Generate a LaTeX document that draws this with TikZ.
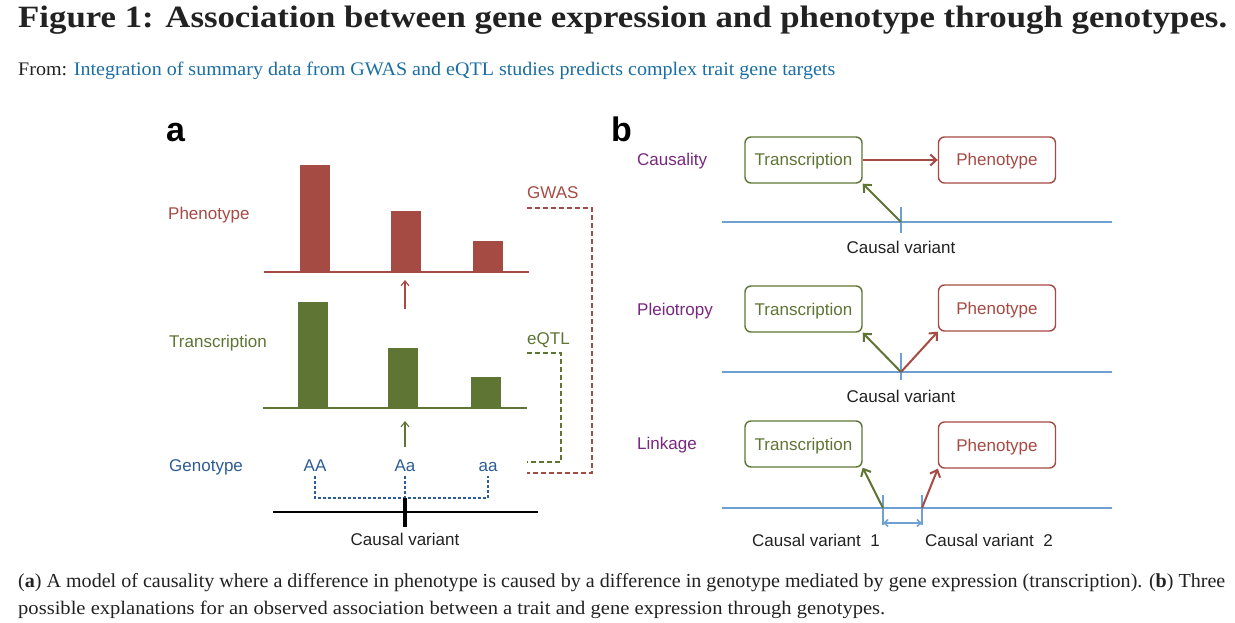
\documentclass[tikz,border=0pt]{standalone}
\usepackage{fontspec}
\setmainfont{Liberation Serif}
\setsansfont{Liberation Sans}
\usetikzlibrary{positioning,arrows.meta}

\definecolor{phenored}{RGB}{166,74,68}
\definecolor{transgreen}{RGB}{94,117,52}
\definecolor{genoblue}{RGB}{46,92,150}
\definecolor{chromblue}{RGB}{110,161,210}
\definecolor{modelpurple}{RGB}{120,40,126}
\definecolor{linkblue}{RGB}{27,110,163}
\definecolor{inkgray}{RGB}{34,34,34}

\tikzstyle{lbl} = [font=\sffamily\fontsize{17}{20}\selectfont, inner sep=0pt, text height=12pt, text depth=0pt]
\tikzstyle{panellbl} = [font=\sffamily\bfseries\fontsize{34}{36}\selectfont, inner sep=0pt, anchor=base west]
\tikzstyle{axisline} = [line width=1.5pt]
\tikzstyle{roundbox} = [lbl, rectangle, rounded corners=6pt, minimum width=117pt, minimum height=46pt, line width=1.4pt]
\tikzstyle{arrow} = [line width=2pt, -{Straight Barb[length=6pt,width=11pt]}]
\tikzstyle{thinarrow} = [line width=1.1pt, -{Straight Barb[length=5pt,width=8pt]}]
\tikzstyle{chrom} = [chromblue, line width=2pt]
\tikzstyle{assocdash} = [line width=1.5pt, dash pattern=on 5pt off 3pt]
\tikzstyle{genodash} = [genoblue, line width=1.2pt, dash pattern=on 3pt off 2pt]
\tikzstyle{textline} = [anchor=base west, inner sep=0pt, text=inkgray]

\begin{document}
\begin{tikzpicture}[x=1pt,y=-1pt]

\fill[white] (0,0) rectangle (1235,623);
\useasboundingbox (0,0) rectangle (1235,623);

% heading, source and caption
\node (title) [textline] at (18,28) {\resizebox{1209pt}{21.5pt}{\bfseries Figure 1: Association between gene expression and phenotype through genotypes.}};
\node (source) [textline] at (18,76) {\resizebox{817pt}{13.5pt}{From: \textcolor{linkblue}{Integration of summary data from GWAS and eQTL studies predicts complex trait gene targets}}};
\node (capone) [textline] at (18,587) {\resizebox{1207pt}{14pt}{(\textbf{a}) A model of causality where a difference in phenotype is caused by a difference in genotype mediated by gene expression (transcription). (\textbf{b}) Three}};
\node (captwo) [textline] at (18,614) {\resizebox{867pt}{13.5pt}{possible explanations for an observed association between a trait and gene expression through genotypes.}};

% panel a
\node (panela) [panellbl] at (166,142) {a};

\node (phenolbl) [lbl, anchor=west, text=phenored] at (168,213) {Phenotype};
\node (translbl) [lbl, anchor=west, text=transgreen] at (169,341) {Transcription};
\node (genolbl) [lbl, anchor=west, text=genoblue] at (169,465) {Genotype};

\foreach \x/\top in {300/165, 391/211, 473/241}
  \fill[phenored] (\x,\top) rectangle (\x+30,272);
\draw[axisline, phenored] (264,272) -- (529,272);

\foreach \x/\top in {298/302, 388/348, 471/377}
  \fill[transgreen] (\x,\top) rectangle (\x+30,408);
\draw[axisline, transgreen] (263,408) -- (527,408);

\node (AA) [lbl, text=genoblue] at (315,465) {AA};
\node (Aa) [lbl, text=genoblue] at (405,465) {Aa};
\node (aa) [lbl, text=genoblue] at (488,465) {aa};

\coordinate (eqtltail) at (405,447);
\coordinate (eqtlhead) at (405,421);
\coordinate (gwastail) at (405,309);
\coordinate (gwashead) at (405,280);
\draw[thinarrow, transgreen] (eqtltail) -- (eqtlhead);
\draw[thinarrow, phenored] (gwastail) -- (gwashead);

\coordinate (brk) at (405,498);
\draw[genodash] ([yshift=-5pt]AA.south) |- (brk) -| ([yshift=-5pt]aa.south);
\draw[genodash] ([yshift=-5pt]Aa.south) -- (brk);

\draw[axisline, black] (273,512) -- (538,512);
\draw[black, line width=3.5pt] (brk) -- (405,527);
\node (cvara) [lbl, text=inkgray] at (405,539) {Causal variant};

\node (gwaslbl) [lbl, anchor=west, text=phenored] at (527,193) {GWAS};
\node (eqtllbl) [lbl, anchor=west, text=transgreen] at (527,338) {eQTL};
\draw[assocdash, phenored] (527,208) -| (592,473) -- (527,473);
\draw[assocdash, transgreen] (527,353) -| (561,462) -- (527,462);

% panel b
\node (panelb) [panellbl] at (611,142) {b};

\node (causal) [lbl, anchor=west, text=modelpurple] at (637,160) {Causality};
\node (pleio) [lbl, anchor=west, text=modelpurple] at (637,309) {Pleiotropy};
\node (linkage) [lbl, anchor=west, text=modelpurple] at (637,443) {Linkage};

% causality
\node (transone) [roundbox, draw=transgreen, text=transgreen] at (803.5,160) {Transcription};
\node (phenoone) [roundbox, draw=phenored, text=phenored] at (997,160) {Phenotype};
\draw[chrom] (722,222) -- (1112,222);
\coordinate (varone) at (901,222);
\draw[chrom] ([yshift=15pt]varone) -- ([yshift=-11pt]varone);
\draw[arrow, phenored] (transone) -- (phenoone);
\draw[arrow, transgreen] (varone) -- (transone.south east);
\node (cvarone) [lbl, text=inkgray, below=19pt of varone] {Causal variant};

% pleiotropy
\node (transtwo) [roundbox, draw=transgreen, text=transgreen] at (803.5,309) {Transcription};
\node (phenotwo) [roundbox, draw=phenored, text=phenored] at (997,308) {Phenotype};
\draw[chrom] (722,372) -- (1112,372);
\coordinate (vartwo) at (901,372);
\draw[chrom] ([yshift=19pt]vartwo) -- ([yshift=-8pt]vartwo);
\draw[arrow, transgreen] (vartwo) -- (transtwo.south east);
\draw[arrow, phenored] (vartwo) -- (phenotwo.south west);
\node (cvartwo) [lbl, text=inkgray, below=18pt of vartwo] {Causal variant};

% linkage
\node (transthree) [roundbox, draw=transgreen, text=transgreen] at (803.5,444) {Transcription};
\node (phenothree) [roundbox, draw=phenored, text=phenored] at (997,445) {Phenotype};
\draw[chrom] (722,508) -- (1112,508);
\coordinate (varthreea) at (883,508);
\coordinate (varthreeb) at (922,508);
\draw[chrom] ([yshift=13pt]varthreea) -- ([yshift=-17pt]varthreea);
\draw[chrom] ([yshift=13pt]varthreeb) -- ([yshift=-17pt]varthreeb);
\draw[chrom, line width=1.5pt, {Straight Barb[length=4pt,width=7pt]}-{Straight Barb[length=4pt,width=7pt]}] ([yshift=-15pt]varthreea) -- ([yshift=-15pt]varthreeb);
\draw[arrow, transgreen] (varthreea) -- (transthree.south east);
\draw[arrow, phenored] (varthreeb) -- (phenothree.south west);
\node (cvarthreea) [lbl, text=inkgray] at (816,540) {Causal variant\ \ 1};
\node (cvarthreeb) [lbl, text=inkgray] at (989,540) {Causal variant\ \ 2};

\end{tikzpicture}
\end{document}
